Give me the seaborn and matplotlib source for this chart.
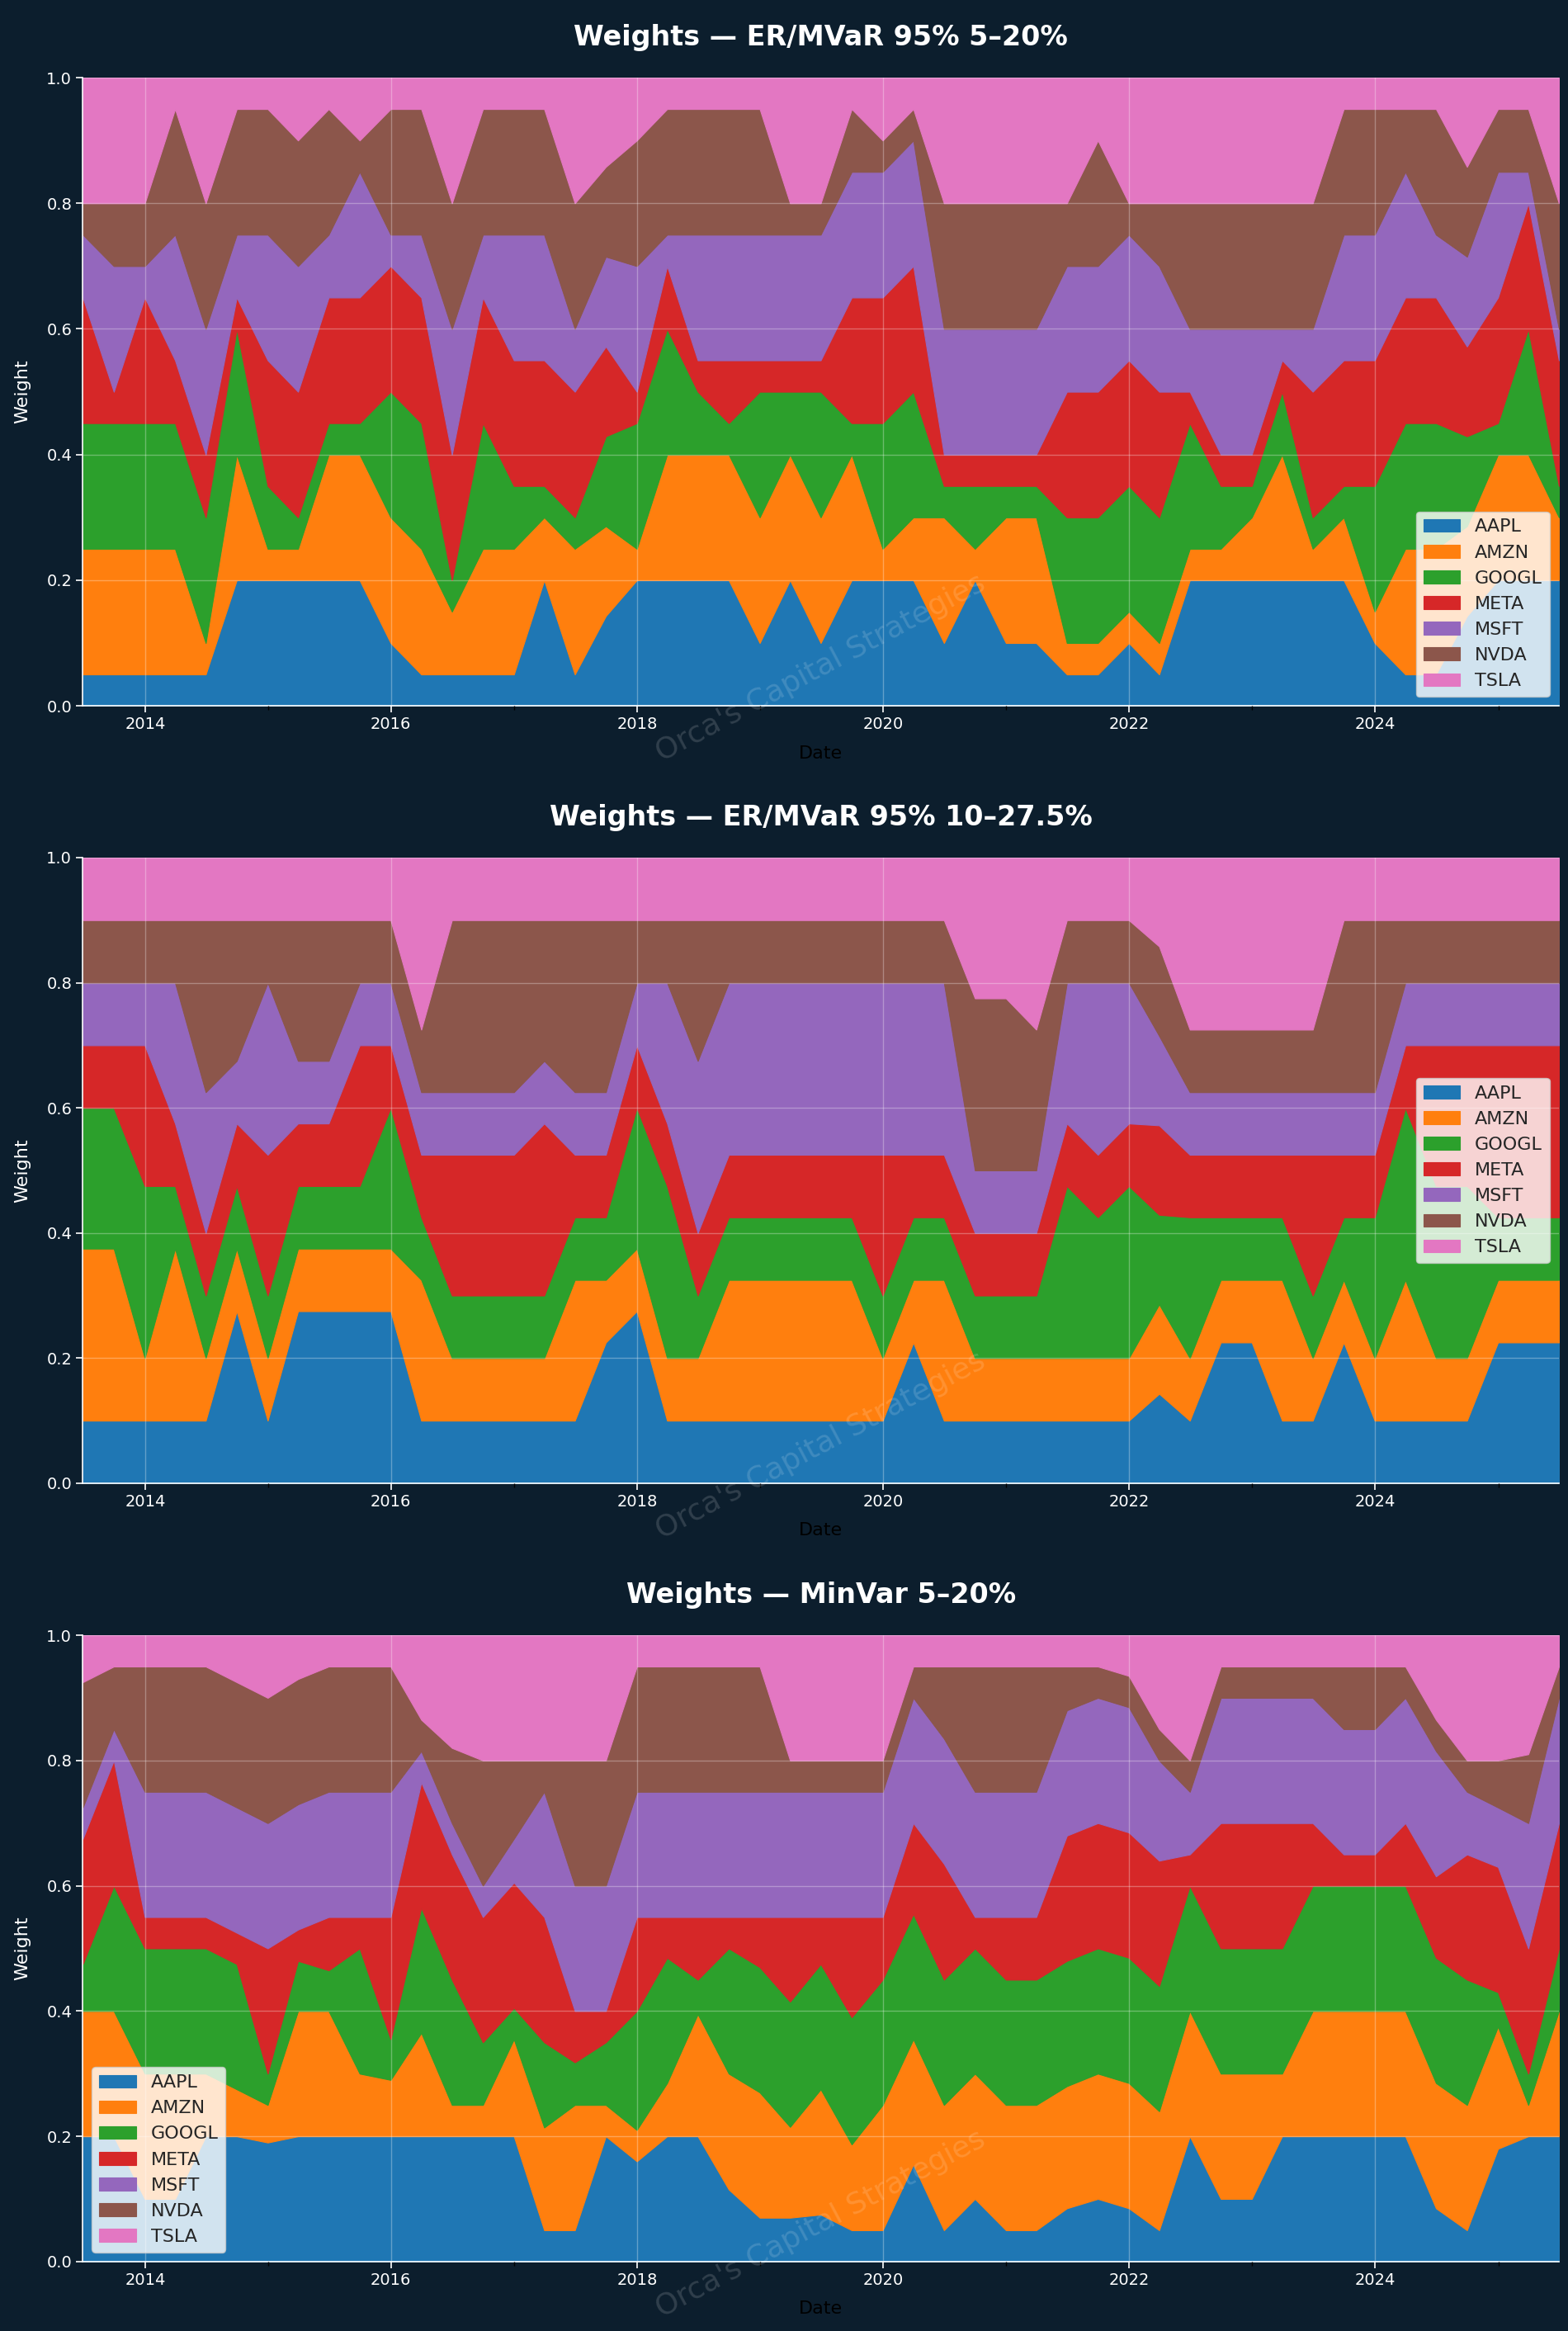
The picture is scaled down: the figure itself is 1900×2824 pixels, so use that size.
import matplotlib
matplotlib.use("Agg")
import matplotlib.pyplot as plt
import matplotlib.dates as mdates
import numpy as np
import pandas as pd
import seaborn as sns

# quarterly rebalance weights, 3 strategies
tickers = ["AAPL", "AMZN", "GOOGL", "META", "MSFT", "NVDA", "TSLA"]
dates = pd.date_range("2013-06-30", periods=49, freq="QE")
titles = ["Weights — ER/MVaR 95% 5–20%",
          "Weights — ER/MVaR 95% 10–27.5%",
          "Weights — MinVar 5–20%"]

# ---- ER/MVaR 95% 5-20%
aapl_1 = [.05, .05, .05, .05, .05, .2, .2, .2, .2, .2, .1, .05, .05, .05, .05, .2, .05, .143, .2, .2,
          .2, .2, .1, .2, .1, .2, .2, .2, .1, .2, .1, .1, .05, .05, .1, .05, .2, .2, .2, .2,
          .2, .2, .1, .05, .05, .143, .2, .2, .2]
amzn_1 = [.2, .2, .2, .2, .05, .2, .05, .05, .2, .2, .2, .2, .1, .2, .2, .1, .2, .143, .05, .2,
          .2, .2, .2, .2, .2, .2, .05, .1, .2, .05, .2, .2, .05, .05, .05, .05, .05, .05, .1, .2,
          .05, .1, .05, .2, .2, .143, .2, .2, .1]
googl_1 = [.2, .2, .2, .2, .2, .2, .1, .05, .05, .05, .2, .2, .05, .2, .1, .05, .05, .143, .2, .2,
           .1, .05, .2, .1, .2, .05, .2, .2, .05, .1, .05, .05, .2, .2, .2, .2, .2, .1, .05, .1,
           .05, .05, .2, .2, .2, .143, .05, .2, .05]
meta_1 = [.2, .05, .2, .1, .1, .05, .2, .2, .2, .2, .2, .2, .2, .2, .2, .2, .2, .143, .05, .1,
          .05, .1, .05, .05, .05, .2, .2, .2, .05, .05, .05, .05, .2, .2, .2, .2, .05, .05, .05, .05,
          .2, .2, .2, .2, .2, .143, .2, .2, .2]
msft_1 = [.1, .2, .05, .2, .2, .1, .2, .2, .1, .2, .05, .1, .2, .1, .2, .2, .1, .143, .2, .05,
          .2, .2, .2, .2, .2, .2, .2, .2, .2, .2, .2, .2, .2, .2, .2, .2, .1, .2, .2, .05,
          .1, .2, .2, .2, .1, .143, .2, .05, .05]
nvda_1 = [.05, .1, .1, .2, .2, .2, .2, .2, .2, .05, .2, .2, .2, .2, .2, .2, .2, .143, .2, .2,
          .2, .2, .2, .05, .05, .1, .05, .05, .2, .2, .2, .2, .1, .2, .05, .1, .2, .2, .2, .2,
          .2, .2, .2, .1, .2, .143, .1, .1, .2]
tsla_1 = [.2, .2, .2, .05, .2, .05, .05, .1, .05, .1, .05, .05, .2, .05, .05, .05, .2, .142, .1, .05,
          .05, .05, .05, .2, .2, .05, .1, .05, .2, .2, .2, .2, .2, .1, .2, .2, .2, .2, .2, .2,
          .2, .05, .05, .05, .05, .142, .05, .05, .2]

# ---- ER/MVaR 95% 10-27.5%
aapl_2 = [.1, .1, .1, .1, .1, .275, .1, .275, .275, .275, .275, .1, .1, .1, .1, .1, .1, .225, .275, .1,
          .1, .1, .1, .1, .1, .1, .1, .225, .1, .1, .1, .1, .1, .1, .1, .143, .1, .225, .225, .1,
          .1, .225, .1, .1, .1, .1, .225, .225, .225]
amzn_2 = [.275, .275, .1, .275, .1, .1, .1, .1, .1, .1, .1, .225, .1, .1, .1, .1, .225, .1, .1, .1,
          .1, .225, .225, .225, .225, .225, .1, .1, .225, .1, .1, .1, .1, .1, .1, .143, .1, .1, .1, .225,
          .1, .1, .1, .225, .1, .1, .1, .1, .1]
googl_2 = [.225, .225, .275, .1, .1, .1, .1, .1, .1, .1, .225, .1, .1, .1, .1, .1, .1, .1, .225, .275,
           .1, .1, .1, .1, .1, .1, .1, .1, .1, .1, .1, .1, .275, .225, .275, .143, .225, .1, .1, .1,
           .1, .1, .225, .275, .275, .275, .1, .1, .1]
meta_2 = [.1, .1, .225, .1, .1, .1, .225, .1, .1, .225, .1, .1, .225, .225, .225, .275, .1, .1, .1, .1,
          .1, .1, .1, .1, .1, .1, .225, .1, .1, .1, .1, .1, .1, .1, .1, .143, .1, .1, .1, .1,
          .225, .1, .1, .1, .225, .225, .275, .275, .275]
msft_2 = [.1, .1, .1, .225, .225, .1, .275, .1, .1, .1, .1, .1, .1, .1, .1, .1, .1, .1, .1, .225,
          .275, .275, .275, .275, .275, .275, .275, .275, .275, .1, .1, .1, .225, .275, .225, .143, .1, .1, .1, .1,
          .1, .1, .1, .1, .1, .1, .1, .1, .1]
nvda_2 = [.1, .1, .1, .1, .275, .225, .1, .225, .225, .1, .1, .1, .275, .275, .275, .225, .275, .275, .1, .1,
          .225, .1, .1, .1, .1, .1, .1, .1, .1, .275, .275, .225, .1, .1, .1, .143, .1, .1, .1, .1,
          .1, .275, .275, .1, .1, .1, .1, .1, .1]
tsla_2 = [.1, .1, .1, .1, .1, .1, .1, .1, .1, .1, .1, .275, .1, .1, .1, .1, .1, .1, .1, .1,
          .1, .1, .1, .1, .1, .1, .1, .1, .1, .225, .225, .275, .1, .1, .1, .142, .275, .275, .275, .275,
          .275, .1, .1, .1, .1, .1, .1, .1, .1]

# ---- MinVar 5-20%
aapl_3 = [.2, .2, .1, .1, .2, .2, .19, .2, .2, .2, .2, .2, .2, .2, .2, .05, .05, .2, .16, .2,
          .2, .115, .07, .07, .075, .05, .05, .155, .05, .1, .05, .05, .085, .1, .085, .05, .2, .1, .1, .2,
          .2, .2, .2, .2, .085, .05, .18, .2, .2]
amzn_3 = [.2, .2, .2, .2, .1, .075, .06, .2, .2, .1, .09, .165, .05, .05, .155, .164, .2, .05, .05, .085,
          .195, .185, .2, .145, .2, .137, .2, .2, .2, .2, .2, .2, .195, .2, .2, .19, .2, .2, .2, .1,
          .2, .2, .2, .2, .2, .2, .195, .05, .2]
googl_3 = [.075, .2, .2, .2, .2, .2, .05, .08, .065, .2, .065, .2, .2, .1, .05, .136, .068, .1, .19, .2,
           .055, .2, .2, .2, .2, .203, .2, .2, .2, .2, .2, .2, .2, .2, .2, .2, .2, .2, .2, .2,
           .2, .2, .2, .2, .2, .2, .055, .05, .1]
meta_3 = [.2, .2, .05, .05, .05, .05, .2, .05, .085, .05, .195, .2, .2, .2, .2, .2, .082, .05, .15, .065,
          .1, .05, .08, .135, .075, .16, .1, .145, .185, .05, .1, .1, .2, .2, .2, .2, .05, .2, .2, .2,
          .1, .05, .05, .1, .13, .2, .2, .2, .2]
msft_3 = [.05, .05, .2, .2, .2, .2, .2, .2, .2, .2, .2, .05, .05, .05, .07, .2, .2, .2, .2, .2,
          .2, .2, .2, .2, .2, .2, .2, .2, .2, .2, .2, .2, .2, .2, .2, .16, .1, .2, .2, .2,
          .2, .2, .2, .2, .2, .1, .095, .2, .2]
nvda_3 = [.2, .1, .2, .2, .2, .2, .2, .2, .2, .2, .2, .05, .12, .2, .125, .05, .2, .2, .2, .2,
          .2, .2, .2, .05, .05, .05, .05, .05, .115, .2, .2, .2, .07, .05, .05, .05, .05, .05, .05, .05,
          .05, .1, .1, .05, .05, .05, .075, .11, .05]
tsla_3 = [.075, .05, .05, .05, .05, .075, .1, .07, .05, .05, .05, .135, .18, .2, .2, .2, .2, .2, .05, .05,
          .05, .05, .05, .2, .2, .2, .2, .05, .05, .05, .05, .05, .05, .05, .065, .15, .2, .05, .05, .05,
          .05, .05, .05, .05, .135, .2, .2, .19, .05]

panels = [
    [aapl_1, amzn_1, googl_1, meta_1, msft_1, nvda_1, tsla_1],
    [aapl_2, amzn_2, googl_2, meta_2, msft_2, nvda_2, tsla_2],
    [aapl_3, amzn_3, googl_3, meta_3, msft_3, nvda_3, tsla_3],
]
legend_locs = ["lower right", "center right", "lower left"]

bg = "#0c1e2d"
sns.set_style("ticks")
plt.rcParams["font.family"] = ["DejaVu Sans"]
colors = sns.color_palette("tab10", 7)

fig = plt.figure(figsize=(19, 28.24), dpi=100, facecolor=bg)
# axes boxes in figure fractions [left, bottom, width, height]
boxes = [[0.0528, 0.6972, 0.9414, 0.2695],
         [0.0528, 0.3637, 0.9414, 0.2684],
         [0.0528, 0.0298, 0.9414, 0.2687]]

for k in range(3):
    df = pd.DataFrame(dict(zip(tickers, panels[k])), index=dates)
    df.index.name = "Date"
    ax = fig.add_axes(boxes[k])
    ax.set_facecolor(bg)
    ax.stackplot(df.index, df.T.values, labels=tickers, colors=colors,
                 edgecolor="face", linewidth=0.8)
    ax.set_xlim(df.index[0], df.index[-1])
    ax.set_ylim(0, 1)
    ax.set_axisbelow(False)
    ax.grid(True, color="white", alpha=0.3, linewidth=1)
    ax.xaxis.set_major_locator(mdates.YearLocator(2))
    ax.xaxis.set_major_formatter(mdates.DateFormatter("%Y"))
    ax.xaxis.set_minor_locator(mdates.YearLocator(1))
    ax.yaxis.set_major_formatter(matplotlib.ticker.FormatStrFormatter("%.1f"))
    ax.tick_params(axis="both", which="major", colors="white", labelsize=14,
                   length=6, width=1.2)
    ax.tick_params(axis="x", which="minor", colors="black", length=3.5, width=1)
    for side in ["left", "bottom"]:
        ax.spines[side].set_color("white")
        ax.spines[side].set_linewidth(1.2)
    for side in ["top", "right"]:
        ax.spines[side].set_visible(False)
    ax.set_title(titles[k], color="white", fontsize=24, fontweight="bold", pad=28)
    ax.set_ylabel("Weight", color="white", fontsize=16, labelpad=14)
    ax.set_xlabel("Date", color="black", fontsize=16, labelpad=11)
    ax.legend(loc=legend_locs[k], fontsize=16)
    ax.text(0.5, 0.06, "Orca's Capital Strategies", transform=ax.transAxes,
            rotation=28, fontsize=26, color="white", alpha=0.15,
            ha="center", va="center", clip_on=False)

fig.savefig("out.png", dpi=100, facecolor=bg)
